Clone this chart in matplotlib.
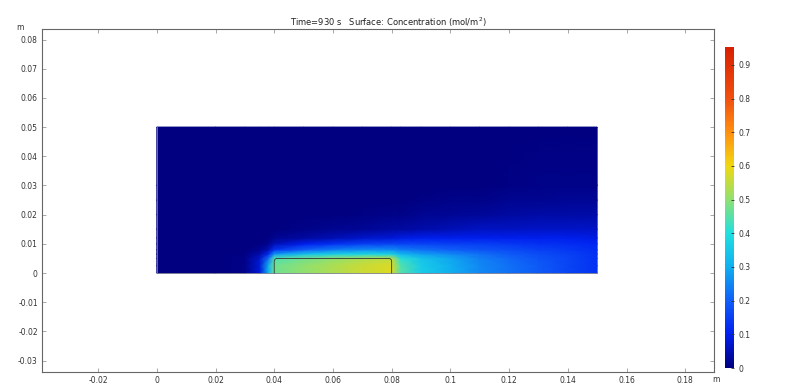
import numpy as np
import matplotlib
matplotlib.use('Agg')
import matplotlib.pyplot as plt
from matplotlib.colors import LinearSegmentedColormap

# Nodos de la malla (m) y concentracion (mol/m^2)
xs = [0, 0.02, 0.03, 0.035, 0.038, 0.04, 0.05, 0.06, 0.07, 0.08, 0.083,
      0.09, 0.1, 0.11, 0.12, 0.13, 0.14, 0.15]
ys = [0, 0.0025, 0.005, 0.0065, 0.008, 0.01, 0.012, 0.015, 0.02, 0.025, 0.03, 0.05]
conc = [
    [0, 0, 0.01, 0.08, 0.30, 0.47, 0.50, 0.53, 0.56, 0.58, 0.45, 0.36, 0.30, 0.25, 0.22, 0.19, 0.16, 0.13],
    [0, 0, 0.01, 0.08, 0.30, 0.47, 0.50, 0.53, 0.56, 0.58, 0.45, 0.36, 0.30, 0.25, 0.22, 0.19, 0.16, 0.13],
    [0, 0, 0.01, 0.07, 0.22, 0.44, 0.47, 0.50, 0.53, 0.55, 0.41, 0.34, 0.29, 0.24, 0.21, 0.18, 0.16, 0.13],
    [0, 0, 0.005, 0.04, 0.12, 0.27, 0.34, 0.37, 0.38, 0.37, 0.32, 0.28, 0.25, 0.22, 0.19, 0.17, 0.15, 0.13],
    [0, 0, 0, 0.015, 0.05, 0.13, 0.20, 0.24, 0.26, 0.26, 0.24, 0.22, 0.20, 0.18, 0.17, 0.15, 0.14, 0.12],
    [0, 0, 0, 0, 0.015, 0.05, 0.10, 0.13, 0.15, 0.16, 0.16, 0.16, 0.15, 0.15, 0.14, 0.13, 0.12, 0.11],
    [0, 0, 0, 0, 0, 0.015, 0.03, 0.05, 0.07, 0.08, 0.09, 0.10, 0.10, 0.10, 0.10, 0.10, 0.10, 0.09],
    [0, 0, 0, 0, 0, 0, 0.01, 0.015, 0.02, 0.03, 0.03, 0.04, 0.05, 0.06, 0.06, 0.065, 0.065, 0.065],
    [0, 0, 0, 0, 0, 0, 0, 0, 0.005, 0.008, 0.01, 0.015, 0.02, 0.025, 0.03, 0.035, 0.035, 0.04],
    [0, 0, 0, 0, 0, 0, 0, 0, 0, 0, 0, 0.005, 0.008, 0.01, 0.015, 0.018, 0.02, 0.02],
    [0, 0, 0, 0, 0, 0, 0, 0, 0, 0, 0, 0, 0, 0.003, 0.005, 0.008, 0.01, 0.01],
    [0] * 18,
]

# Geometria: bordes del dominio y bloque con esquinas redondeadas
borde_x = [0.15, 0, 0]
borde_y = [0, 0, 0.05]
bloque_x0, bloque_x1, bloque_alto, radio = 0.04, 0.08, 0.005, 0.001

xticks = [-0.02, 0, 0.02, 0.04, 0.06, 0.08, 0.1, 0.12, 0.14, 0.16, 0.18]
yticks = [-0.03, -0.02, -0.01, 0, 0.01, 0.02, 0.03, 0.04, 0.05, 0.06, 0.07, 0.08]
cbar_ticks = [0, 0.1, 0.2, 0.3, 0.4, 0.5, 0.6, 0.7, 0.8, 0.9]
vmax = 0.953

# Colormap tipo "Rainbow"
cmap_vals = [0, 0.1, 0.2, 0.3, 0.4, 0.5, 0.6, 0.7, 0.8, vmax]
cmap_cols = ['#000080', '#0020f0', '#1060f8', '#10b0f0', '#20e0e0',
             '#90e070', '#f0d810', '#ff9010', '#f05010', '#d82000']
cmap = LinearSegmentedColormap.from_list(
    'rainbow_c', [(v / vmax, c) for v, c in zip(cmap_vals, cmap_cols)])

fig = plt.figure(figsize=(7.96, 3.89), dpi=100)
ax = fig.add_axes([42 / 796, 1 - 372 / 389, 672 / 796, 343 / 389])

X, Y = np.meshgrid(xs, ys)
pc = ax.pcolormesh(X, Y, np.array(conc), shading='gouraud', cmap=cmap,
                   vmin=0, vmax=vmax, rasterized=True)
ax.plot(borde_x, borde_y, color='#7f7f8f', lw=0.6)

# contorno del bloque
t = np.linspace(0, np.pi / 2, 12)
bx = np.concatenate([[bloque_x0], bloque_x0 + radio - radio * np.cos(t),
                     bloque_x1 - radio + radio * np.sin(t), [bloque_x1]])
by = np.concatenate([[0], bloque_alto - radio + radio * np.sin(t),
                     bloque_alto - radio + radio * np.cos(t), [0]])
ax.plot(bx, by, color='#333333', lw=0.6)

ax.set_xlim(-0.0391, 0.1898)
ax.set_ylim(-0.0339, 0.0836)
ax.set_xticks(xticks)
ax.set_yticks(yticks)
fmt = lambda v: '0' if v == 0 else ('%g' % v)
ax.set_xticklabels([fmt(v) for v in xticks])
ax.set_yticklabels([fmt(v) for v in yticks])
ax.tick_params(direction='in', length=3, width=0.6, color='#999999',
               labelsize=5.5, labelcolor='#333333', top=True, right=True,
               pad=3)
for s in ax.spines.values():
    s.set_color('#666666')
    s.set_linewidth(0.8)

fig.text(712 / 796, 1 - 380 / 389, 'm', fontsize=5.5, color='#333333',
         ha='left', va='center')
fig.text(20 / 796, 1 - 28 / 389, 'm', fontsize=5.5, color='#333333',
         ha='center', va='center')
fig.text(388 / 796, 1 - 22 / 389,
         'Time=930 s   Surface: Concentration (mol/m$^2$)',
         fontsize=6, color='#222222', ha='center', va='center')

cax = fig.add_axes([725 / 796, 1 - 368 / 389, 9 / 796, 321 / 389])
cb = fig.colorbar(pc, cax=cax, ticks=cbar_ticks)
cb.ax.set_yticklabels([fmt(v) for v in cbar_ticks])
cb.ax.tick_params(direction='in', length=2, width=0.6, color='#333333',
                  labelsize=5.5, labelcolor='#333333', pad=3)
cb.outline.set_visible(False)

fig.savefig('out.png', dpi=100)
